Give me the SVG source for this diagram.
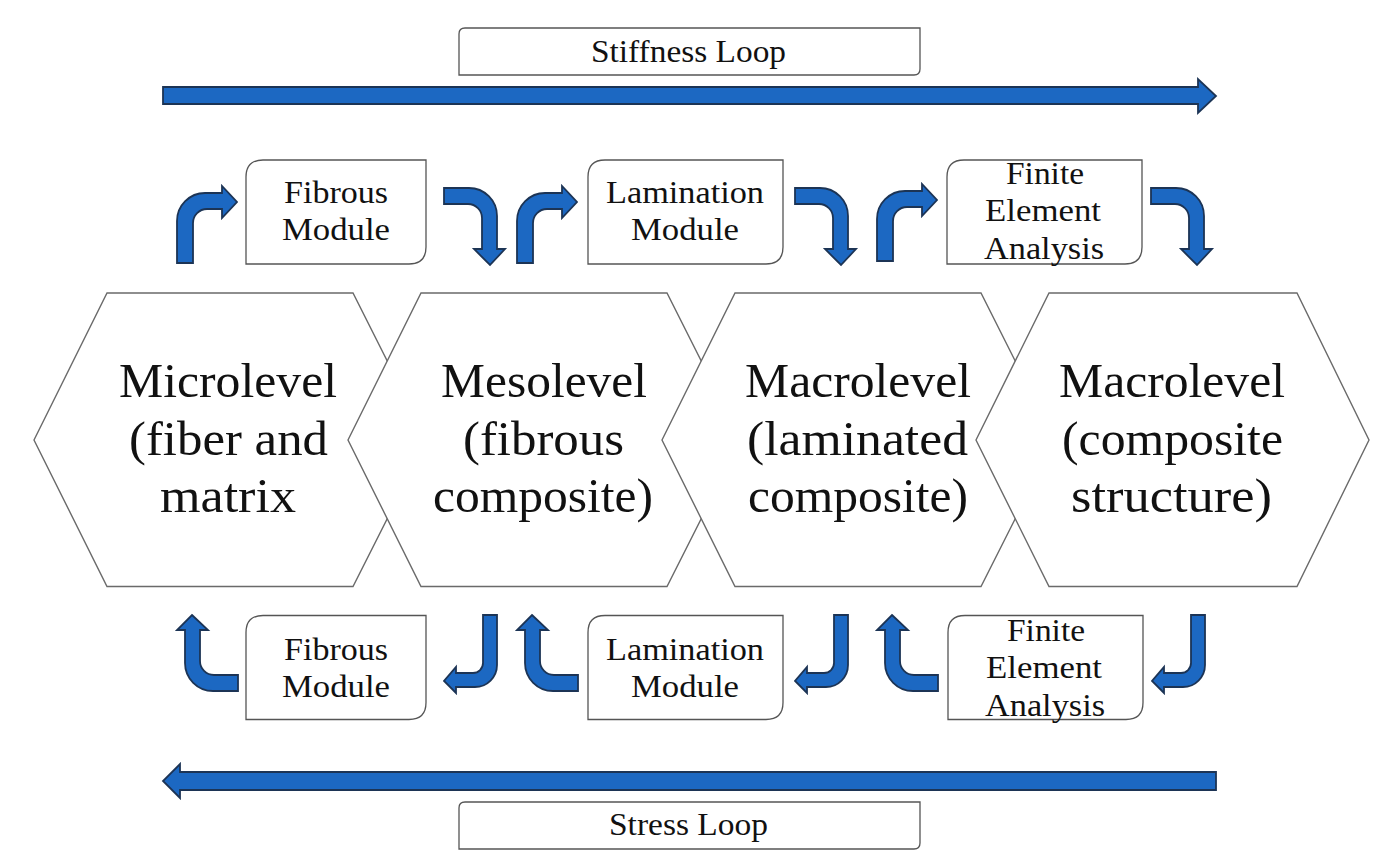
<svg xmlns="http://www.w3.org/2000/svg" width="1387" height="864" viewBox="0 0 1387 864">
<style>
.hex{fill:#fff;stroke:#6a6a6a;stroke-width:1.4}
.box{fill:#fff;stroke:#555;stroke-width:1.3}
.arr{fill:#1c68c2;stroke:#1c3455;stroke-width:1.8;stroke-linejoin:miter}
text{font-family:"Liberation Serif","DejaVu Serif",serif;fill:#111;text-anchor:middle}
.big{font-size:49px}
.mid{font-size:32px}
.sm{font-size:32px}
</style>
<defs>
<path id="hexagon" d="M0 147L73 0H319L393 147L319 293.500H73Z"/>
<path id="upright" d="M177 263V221A28 28 0 0 1 205 193H222V186L237 202L222 218V209H207A14 14 0 0 0 193 223V263Z"/>
<path id="rightdown" d="M444 188H469A28 28 0 0 1 497 216V249H505L490 265L474 249H482V218A14 14 0 0 0 468 204H444Z"/>
<path id="upleft" d="M192 615L208 630H200V661A14 14 0 0 0 214 675H238V691H213A28 28 0 0 1 185 663V630H177Z"/>
<path id="jleft" d="M483 615H497V665A22 22 0 0 1 475 687H456V693L444 681L456 667V673H473A10 10 0 0 0 483 663Z"/>
<path id="bx180" d="M263 0H426V87Q426 104 409 104H246V17Q246 0 263 0Z"/>
<path id="bx195" d="M605 0H783V87Q783 104 766 104H588V17Q588 0 605 0Z"/>
</defs>
<g id="stiffness-label"><path class="box" d="M465 28H920V69Q920 75 914 75H459V34Q459 28 465 28Z"/><text class="mid" x="688.500" y="62" textLength="195" lengthAdjust="spacingAndGlyphs">Stiffness Loop</text></g>
<g id="stress-label"><path class="box" d="M465 802H920V843Q920 849 914 849H459V808Q459 802 465 802Z"/><text class="mid" x="688.500" y="835" textLength="159" lengthAdjust="spacingAndGlyphs">Stress Loop</text></g>
<g id="connectors">
<path class="arr" d="M163 87H1198V79L1216 96L1198 113V104H163Z"/>
<path class="arr" d="M1216 772H180V764L163 781L180 798V790H1216Z"/>
<use href="#upright" class="arr"/>
<use href="#upright" class="arr" x="340"/>
<use href="#upright" class="arr" x="700" y="-2"/>
<use href="#rightdown" class="arr"/>
<use href="#rightdown" class="arr" x="351"/>
<use href="#rightdown" class="arr" x="707"/>
<use href="#upleft" class="arr"/>
<use href="#upleft" class="arr" x="340"/>
<use href="#upleft" class="arr" x="700"/>
<use href="#jleft" class="arr"/>
<use href="#jleft" class="arr" x="351"/>
<use href="#jleft" class="arr" x="708"/>
</g>
<g id="fibrous-top"><use href="#bx180" class="box" y="160"/><text class="sm" x="336" y="203" textLength="104" lengthAdjust="spacingAndGlyphs">Fibrous</text><text class="sm" x="336" y="240" textLength="108" lengthAdjust="spacingAndGlyphs">Module</text></g>
<g id="lamination-top"><use href="#bx195" class="box" y="160"/><text class="sm" x="685" y="203" textLength="158" lengthAdjust="spacingAndGlyphs">Lamination</text><text class="sm" x="685" y="240" textLength="108" lengthAdjust="spacingAndGlyphs">Module</text></g>
<g id="fea-top"><use href="#bx195" class="box" x="359" y="160"/><text class="sm" x="1045" y="184" textLength="78" lengthAdjust="spacingAndGlyphs">Finite</text><text class="sm" x="1043" y="221" textLength="116" lengthAdjust="spacingAndGlyphs">Element</text><text class="sm" x="1044" y="259" textLength="120" lengthAdjust="spacingAndGlyphs">Analysis</text></g>
<g id="fibrous-bottom"><use href="#bx180" class="box" y="615.500"/><text class="sm" x="336" y="660" textLength="104" lengthAdjust="spacingAndGlyphs">Fibrous</text><text class="sm" x="336" y="697" textLength="108" lengthAdjust="spacingAndGlyphs">Module</text></g>
<g id="lamination-bottom"><use href="#bx195" class="box" y="615.500"/><text class="sm" x="685" y="660" textLength="158" lengthAdjust="spacingAndGlyphs">Lamination</text><text class="sm" x="685" y="697" textLength="108" lengthAdjust="spacingAndGlyphs">Module</text></g>
<g id="fea-bottom"><use href="#bx195" class="box" x="360" y="615.500"/><text class="sm" x="1046" y="641" textLength="78" lengthAdjust="spacingAndGlyphs">Finite</text><text class="sm" x="1044" y="678" textLength="116" lengthAdjust="spacingAndGlyphs">Element</text><text class="sm" x="1045" y="716" textLength="120" lengthAdjust="spacingAndGlyphs">Analysis</text></g>
<g id="micro"><use href="#hexagon" class="hex" x="34" y="293"/><text class="big" x="228" y="397" textLength="218" lengthAdjust="spacingAndGlyphs">Microlevel</text><text class="big" x="228.500" y="455" textLength="199" lengthAdjust="spacingAndGlyphs">(fiber and</text><text class="big" x="228" y="512" textLength="136" lengthAdjust="spacingAndGlyphs">matrix</text></g>
<g id="meso"><use href="#hexagon" class="hex" x="348" y="293"/><text class="big" x="544" y="397" textLength="206" lengthAdjust="spacingAndGlyphs">Mesolevel</text><text class="big" x="543.500" y="455" textLength="161" lengthAdjust="spacingAndGlyphs">(fibrous</text><text class="big" x="543" y="512" textLength="220" lengthAdjust="spacingAndGlyphs">composite)</text></g>
<g id="macro-laminated"><use href="#hexagon" class="hex" x="662" y="293"/><text class="big" x="858" y="397" textLength="226" lengthAdjust="spacingAndGlyphs">Macrolevel</text><text class="big" x="857.500" y="455" textLength="221" lengthAdjust="spacingAndGlyphs">(laminated</text><text class="big" x="858" y="512" textLength="220" lengthAdjust="spacingAndGlyphs">composite)</text></g>
<g id="macro-structure"><path class="hex" d="M976 440L1049 293H1297L1369 440L1297 586.500H1049Z"/><text class="big" x="1172" y="397" textLength="226" lengthAdjust="spacingAndGlyphs">Macrolevel</text><text class="big" x="1172.500" y="455" textLength="221" lengthAdjust="spacingAndGlyphs">(composite</text><text class="big" x="1171.500" y="512" textLength="201" lengthAdjust="spacingAndGlyphs">structure)</text></g>
</svg>
